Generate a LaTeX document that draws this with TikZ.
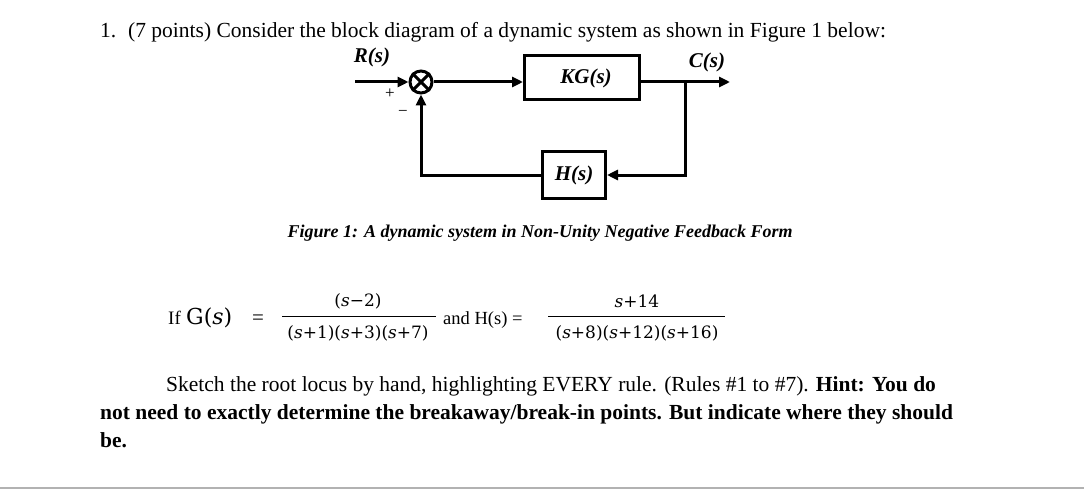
\documentclass[tikz,border=0pt]{standalone}
\usepackage{fontspec}
\setmainfont{Liberation Serif}
\newfontfamily\mathish{DejaVu Serif}
\usetikzlibrary{arrows.meta}
\begin{document}
\begin{tikzpicture}[x=1pt,y=-1pt,
  txt/.style={inner sep=0pt,anchor=base west,font=\fontsize{21.5}{24}\selectfont},
  blk/.style={draw,line width=3pt,inner sep=0pt},
  lbl/.style={inner sep=0pt,font=\fontsize{21}{23}\selectfont\bfseries\itshape},
  sig/.style={line width=3pt,-{Triangle[length=11pt,width=10pt]}}]
\useasboundingbox (0,0) rectangle (1084,500);
\fill[white] (0,0) rectangle (1084,500);
\node[txt] (q1) at (100,38) {1.};
\node[txt] (q) at (128,38) {(7 points) Consider the block diagram of a dynamic system as shown in Figure 1 below:};
% block diagram
\node[blk,circle,minimum size=22pt] (sum) at (421,82) {};
\draw[line width=3pt] (sum.north west) -- (sum.south east) (sum.north east) -- (sum.south west);
\node[blk,minimum width=115pt,minimum height=44pt,lbl] (kg) at (582,78) {\hspace*{8pt}KG(s)};
\node[blk,minimum width=63pt,minimum height=46pt,lbl] (h) at (574,175) {H(s)};
\coordinate (in) at (355,82);
\coordinate (br) at (685,82);
\coordinate (out) at (730,82);
\node[lbl] (R) at (372,57) {R(s)};
\node[lbl] (C) at (707,62) {C(s)};
\node[inner sep=0pt,font=\fontsize{17}{17}\selectfont] (p) at (390,94) {+};
\node[inner sep=0pt,font=\fontsize{17}{17}\selectfont] (m) at (403,113) {−};
\draw[sig] (in) -- (sum.west);
\draw[sig] (sum.east) -- (sum.east -| kg.west);
\draw[sig] (kg.east |- out) -- (out);
\draw[sig] (br) |- (h.east);
\draw[sig] (h.west) -| (sum.south);
% caption
\node[inner sep=0pt,font=\fontsize{18}{20}\selectfont\bfseries\itshape] (cap) at (540,233) {Figure 1: A dynamic system in Non-Unity Negative Feedback Form};
% equation
\node[txt,font=\fontsize{19}{22}\selectfont] (if) at (168,324) {If};
\node[txt,font=\fontsize{22}{22}\selectfont\mathish] (g) at (186,324) {G(\textit{s})};
\node[txt,font=\fontsize{21}{22}\selectfont] (eq) at (252,324) {=};
\node[inner sep=0pt,font=\fontsize{17}{19}\selectfont\mathish] (n1) at (358,301) {(\textit{s}−2)};
\draw[line width=1pt] (282,316) -- (436,316);
\node[inner sep=0pt,font=\fontsize{17}{19}\selectfont\mathish] (d1) at (358,333) {(\textit{s}+1)(\textit{s}+3)(\textit{s}+7)};
\node[txt,font=\fontsize{18.5}{22}\selectfont] (and) at (443,324) {and H(s) =};
\node[inner sep=0pt,font=\fontsize{17}{19}\selectfont\mathish] (n2) at (637,301) {\textit{s}+14};
\draw[line width=1pt] (548,316) -- (725,316);
\node[inner sep=0pt,font=\fontsize{17}{19}\selectfont\mathish] (d2) at (637,333) {(\textit{s}+8)(\textit{s}+12)(\textit{s}+16)};
% paragraph
\node[txt] (l1) at (166,391) {Sketch the root locus by hand, highlighting EVERY rule. (Rules \#1 to \#7). \textbf{Hint: You do}};
\node[txt] (l2) at (100,419) {\textbf{not need to exactly determine the breakaway/break-in points. But indicate where they should}};
\node[txt] (l3) at (100,447) {\textbf{be.}};
\draw[gray!60,line width=1.5pt] (0,488) -- (1084,488);
\end{tikzpicture}
\end{document}
